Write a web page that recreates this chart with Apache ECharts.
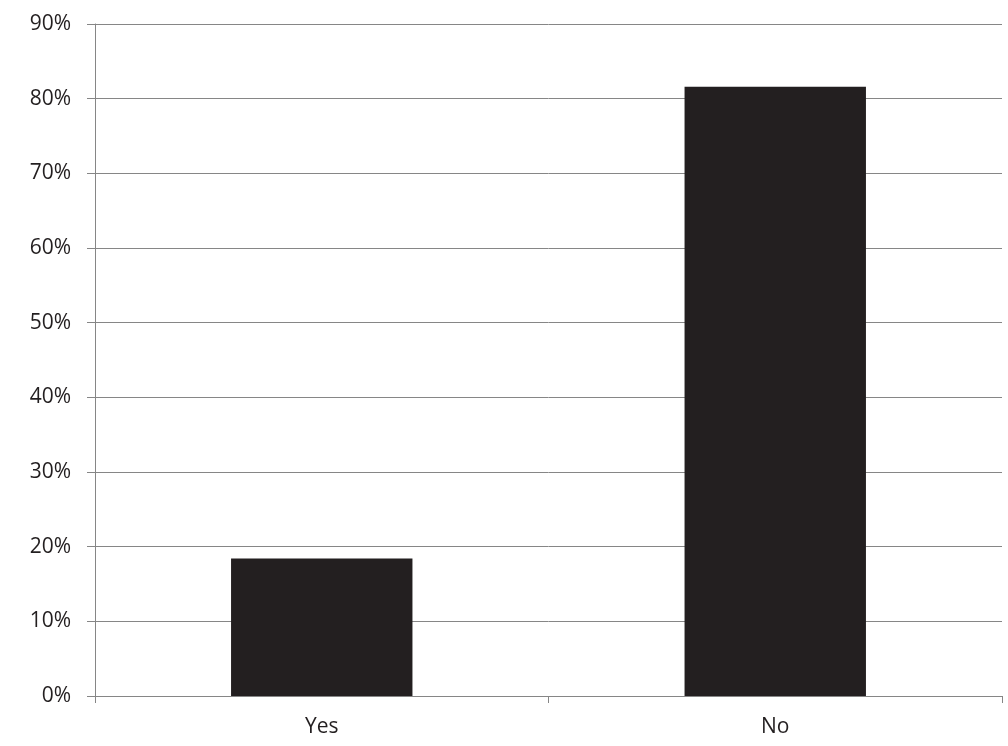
<!DOCTYPE html>
<html>
<head>
<meta charset="utf-8">
<script src="https://cdn.jsdelivr.net/npm/echarts@6/dist/echarts.min.js"></script>
<style>html,body{margin:0;padding:0;background:#fff}#c{width:1008px;height:746px}</style>
</head>
<body>
<div id="c"></div>
<script>
const categories = ['Yes', 'No'];
const values = [18.4, 81.6];
const yTicks = { min: 0, max: 90, interval: 10 };

const chart = echarts.init(document.getElementById('c'), null, { renderer: 'canvas' });
chart.setOption({
  animation: false,
  grid: { left: 95, right: 6, top: 24, bottom: 50, containLabel: false },
  xAxis: {
    type: 'category',
    data: categories,
    axisLine: { show: true, lineStyle: { color: '#868686', width: 1 } },
    axisTick: { show: true, length: 7, lineStyle: { color: '#868686' } },
    axisLabel: { color: '#231f20', fontSize: 21, fontFamily: 'Open Sans', margin: 21 }
  },
  yAxis: {
    type: 'value',
    min: yTicks.min, max: yTicks.max, interval: yTicks.interval,
    axisLine: { show: true, lineStyle: { color: '#868686', width: 1 } },
    axisTick: { show: true, length: 8, lineStyle: { color: '#868686' } },
    splitLine: { show: true, lineStyle: { color: '#868686', width: 1 } },
    axisLabel: { color: '#231f20', fontSize: 21, fontFamily: 'Open Sans', margin: 24, formatter: '{value}%' }
  },
  series: [{
    type: 'bar',
    data: values,
    barWidth: '40%',
    itemStyle: { color: '#231f20' }
  }]
});
</script>
</body>
</html>
